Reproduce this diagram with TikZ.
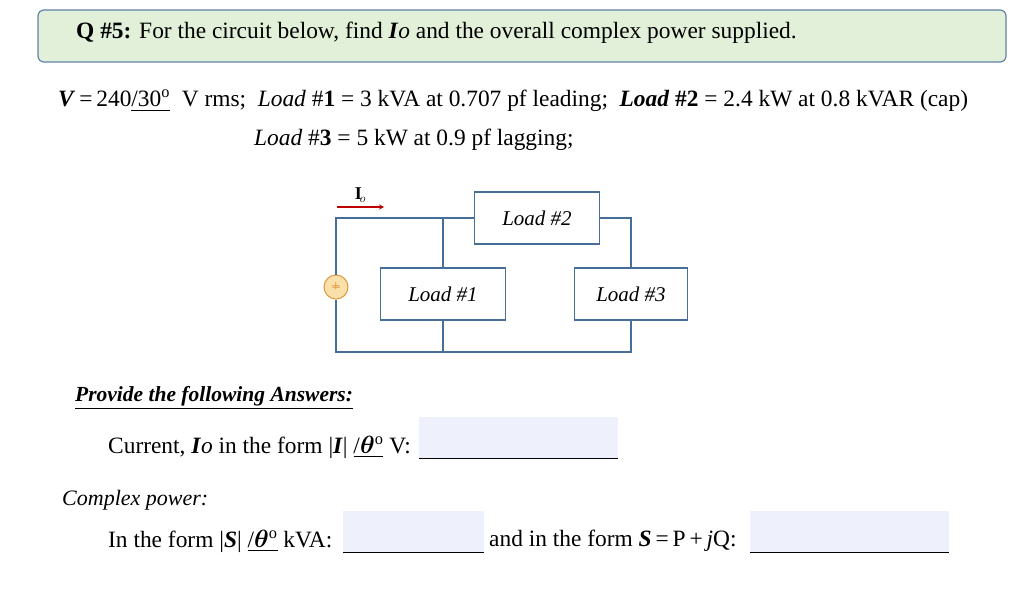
\documentclass[tikz,border=0pt]{standalone}
\usepackage{amsmath}
\usepackage{fontspec}
\setmainfont{Liberation Serif}
\usetikzlibrary{arrows}
\definecolor{hdfill}{RGB}{226,239,217}
\definecolor{hddraw}{RGB}{95,130,170}
\definecolor{wire}{RGB}{70,110,150}
\definecolor{ansfill}{RGB}{238,240,252}
\definecolor{srcfill}{RGB}{250,225,170}
\definecolor{srcdraw}{RGB}{225,150,60}
\tikzstyle{load} = [rectangle, draw=wire, line width=1.2pt, fill=white, minimum width=125pt, minimum height=52pt, font=\fontsize{21}{23}\selectfont\itshape]
\tikzstyle{wr} = [draw=wire, line width=1.2pt]
\tikzstyle{txt} = [anchor=west, inner sep=0pt, font=\fontsize{23.4}{25}\selectfont]
\tikzstyle{ans} = [fill=ansfill, draw=none]
\newcommand{\ang}[1]{\underline{/#1\textsuperscript{o}}}
\begin{document}
\begin{tikzpicture}[x=1pt,y=-1pt]
	\useasboundingbox (0,0) rectangle (1024,607);
	% heading
	\node (head) [rectangle, rounded corners=6pt, draw=hddraw, line width=1.2pt, fill=hdfill, minimum width=968pt, minimum height=52pt] at (522,36) {};
	\node (q) [txt] at (76,33) {\textbf{Q \#5:} For the circuit below, find \textbf{\textit{I}}\textit{o} and the overall complex power supplied.};
	% data
	\node (data1) [txt] at (58,101) {\textbf{\textit{V}}\,=\,240\ang{30}\ \ V rms;\ \ \textit{Load} \#\textbf{1} = 3 kVA at 0.707 pf leading;\ \ \textbf{\textit{Load} \#2} = 2.4 kW at 0.8 kVAR (cap)};
	\node (data2) [txt] at (254,140) {\textit{Load} \#\textbf{3} = 5 kW at 0.9 pf lagging;};
	% circuit
	\node (ld2) [load] at (537,218) {Load \#2};
	\node (ld1) [load] at (443,294) {Load \#1};
	\node (ld3) [load, minimum width=113pt] at (631,294) {Load \#3};
	\node (src) [circle, draw=srcdraw, fill=srcfill, line width=1pt, minimum size=24pt, inner sep=0pt, font=\fontsize{16}{16}\selectfont\color{srcdraw}] at (336,287) {\shortstack{+\\[-7pt]--}};
	\coordinate (tl) at (336,218);
	\coordinate (bl) at (336,352);
	\coordinate (tj) at (443,218);
	\coordinate (bj) at (443,352);
	\coordinate (tr) at (631,218);
	\coordinate (br) at (631,352);
	\draw [wr] (src.north) -- (tl) -- (ld2.west);
	\draw [wr] (src.south) -- (bl) -- (br) -- (ld3.south);
	\draw [wr] (ld2.east) -- (tr) -- (ld3.north);
	\draw [wr] (tj) -- (ld1.north);
	\draw [wr] (ld1.south) -- (bj);
	\coordinate (ia) at (337,207);
	\coordinate (ib) at (384,207);
	\draw [red!75!black, line width=1.2pt, -stealth] (ia) -- node[above=1pt, text=black, font=\fontsize{18}{18}\selectfont]{$\mathbf{I}_{\!o}$} (ib);
	% answers
	\node (prov) [txt, font=\fontsize{21.5}{23}\selectfont\bfseries\itshape] at (75,398) {\underline{Provide the following Answers:}};
	\fill [ans] (419,417) rectangle (618,458);
	\draw (419,458) -- (618,458);
	\node (cur) [txt] at (108,447) {Current, \textbf{\textit{I}}\textit{o} in the form |\textbf{\textit{I}}| \ang{$\boldsymbol{\theta}$} V:};
	\node (cp) [txt, font=\fontsize{22}{24}\selectfont\itshape] at (62,500) {Complex power:};
	\fill [ans] (343,511) rectangle (484,552);
	\draw (343,552) -- (484,552);
	\fill [ans] (750,511) rectangle (949,552);
	\draw (750,552) -- (949,552);
	\node (f1) [txt] at (108,541) {In the form |\textbf{\textit{S}}| \ang{$\boldsymbol{\theta}$} kVA:};
	\node (f2) [txt] at (489,541) {and in the form \textbf{\textit{S}}\,=\,P\,+\,\textit{j}Q:};
\end{tikzpicture}
\end{document}
